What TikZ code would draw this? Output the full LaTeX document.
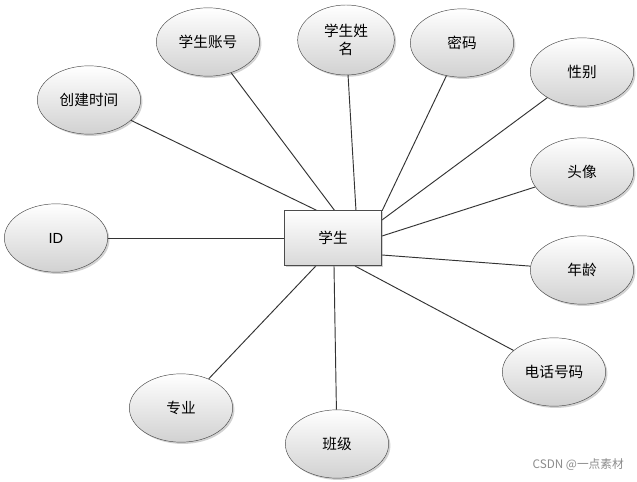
\documentclass[tikz,border=0pt]{standalone}
\usepackage{fontspec}
\setmainfont{Liberation Sans}
\newfontfamily\cjk{Noto Sans CJK SC}
\usetikzlibrary{shapes.geometric,shadows}
\begin{document}
\begin{tikzpicture}[x=0.03cm,y=-0.03cm,
  attr/.style={ellipse,draw=black!70,top color=white,bottom color=black!18,
    drop shadow={shadow xshift=1.5pt,shadow yshift=-1.5pt,opacity=0.35},
    minimum width=3.1cm,minimum height=2.05cm,inner sep=0pt,font=\cjk\fontsize{12.5}{15}\selectfont,align=center},
  ent/.style={rectangle,draw=black!70,top color=white,bottom color=black!15,
    drop shadow={shadow xshift=1.5pt,shadow yshift=-1.5pt,opacity=0.35},
    minimum width=2.91cm,minimum height=1.65cm,font=\cjk\fontsize{12.5}{15}\selectfont},
  link/.style={draw=black!80,line width=0.8pt}]
\useasboundingbox (0,0) rectangle (637,482);
\fill[white] (0,0) rectangle (637,482);
\node[attr] (zh) at (208,42) {学生账号};
\node[attr,minimum width=2.9cm,minimum height=2.1cm] (xm) at (346,40) {学生姓\\名};
\node[attr] (mm) at (462,43) {密码};
\node[attr] (xb) at (582,72) {性别};
\node[attr] (cj) at (89,100) {创建时间};
\node[attr] (tx) at (582,172) {头像};
\node[attr] (id) at (56,238) {\rmfamily ID};
\node[attr] (nl) at (582,270) {年龄};
\node[attr] (dh) at (554,372) {电话号码};
\node[attr] (zy) at (181,408) {专业};
\node[attr] (bj) at (337,444) {班级};
\begin{scope}[on background layer/.style={}]
\end{scope}
\coordinate (s) at (333,238);
\foreach \a/\p in {zh/{335,211},xm/{356,211},mm/{382,211},xb/{382,220},cj/{318,211},tx/{382,236},id/{285,238},nl/{382,255},dh/{355,266},zy/{331,250},bj/{334,266}}
  \draw[link] (\a) -- (\p);
\node[ent] (st) at (333,238) {学生};
\node[font=\cjk\fontsize{10}{12}\selectfont,text=black!45,anchor=east] (wm) at (628,465) {CSDN @一点素材};
\end{tikzpicture}
\end{document}
